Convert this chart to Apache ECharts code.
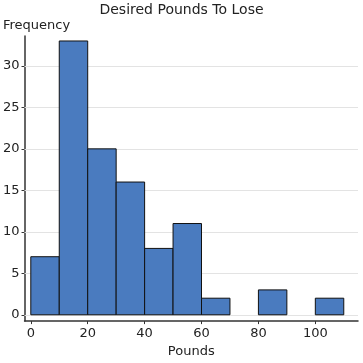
<!DOCTYPE html>
<html><head><meta charset="utf-8">
<script src="https://cdn.jsdelivr.net/npm/echarts@6/dist/echarts.min.js"></script>
<style>html,body{margin:0;padding:0;background:#fff}#c{width:363px;height:363px}</style>
</head><body><div id="c"></div>
<script>
const binStarts = [0, 10, 20, 30, 40, 50, 60, 70, 80, 90, 100];
const binWidth = 10;
const counts = [7, 33, 20, 16, 8, 11, 2, 0, 3, 0, 2];
const xTicks = [0, 20, 40, 60, 80, 100];
const yTicks = [0, 5, 10, 15, 20, 25, 30];
const font = 'DejaVu Sans, Verdana, sans-serif';
const txt = '#222';

const data = binStarts.map((s, i) => [s, s + binWidth, counts[i]]).filter(d => d[2] > 0);

const chart = echarts.init(document.getElementById('c'), null, {renderer: 'canvas'});
chart.setOption({
  animation: false,
  backgroundColor: '#fff',
  title: [
    {text: 'Desired Pounds To Lose', left: 'center', top: 3, padding: 0,
     textStyle: {fontFamily: font, fontSize: 14, fontWeight: 'normal', color: txt}},
    {text: 'Frequency', left: 3, top: 19, padding: 0,
     textStyle: {fontFamily: font, fontSize: 13, fontWeight: 'normal', color: txt}}
  ],
  grid: {left: 24, right: 5, top: 36, bottom: 39},
  xAxis: {
    type: 'value', min: -2.2, max: 115,
    name: 'Pounds', nameLocation: 'middle', nameGap: 22,
    nameTextStyle: {fontFamily: font, fontSize: 13, color: txt},
    axisLine: {show: true, onZero: false, lineStyle: {color: '#333', width: 1.5}},
    axisTick: {show: true, length: 3, customValues: xTicks, lineStyle: {color: '#333'}},
    axisLabel: {customValues: xTicks, margin: 6, fontFamily: font, fontSize: 13, color: txt},
    splitLine: {show: false}
  },
  yAxis: {
    type: 'value', min: -0.76, max: 33.6,
    axisLine: {show: true, onZero: false, lineStyle: {color: '#333', width: 1.5}},
    axisTick: {show: true, length: 3, customValues: yTicks, lineStyle: {color: '#333'}},
    axisLabel: {customValues: yTicks, margin: 5, fontFamily: font, fontSize: 13, color: txt},
    splitLine: {show: false}
  },
  series: [
    {
      type: 'line', data: [], z: 1, silent: true,
      markLine: {
        silent: true, symbol: 'none', animation: false, z: 1,
        label: {show: false},
        lineStyle: {color: '#e3e3e3', type: 'solid', width: 1},
        data: yTicks.map(v => ({yAxis: v}))
      }
    },
    {
      type: 'custom', z: 3,
      data: data,
      encode: {x: [0, 1], y: 2},
      renderItem: function (params, api) {
        const p0 = api.coord([api.value(0), 0]);
        const p1 = api.coord([api.value(1), api.value(2)]);
        return {
          type: 'rect',
          shape: {x: p0[0], y: p1[1], width: p1[0] - p0[0], height: p0[1] - p1[1]},
          style: {fill: '#4a7bbf', stroke: '#111', lineWidth: 1}
        };
      }
    }
  ]
});
</script></body></html>
